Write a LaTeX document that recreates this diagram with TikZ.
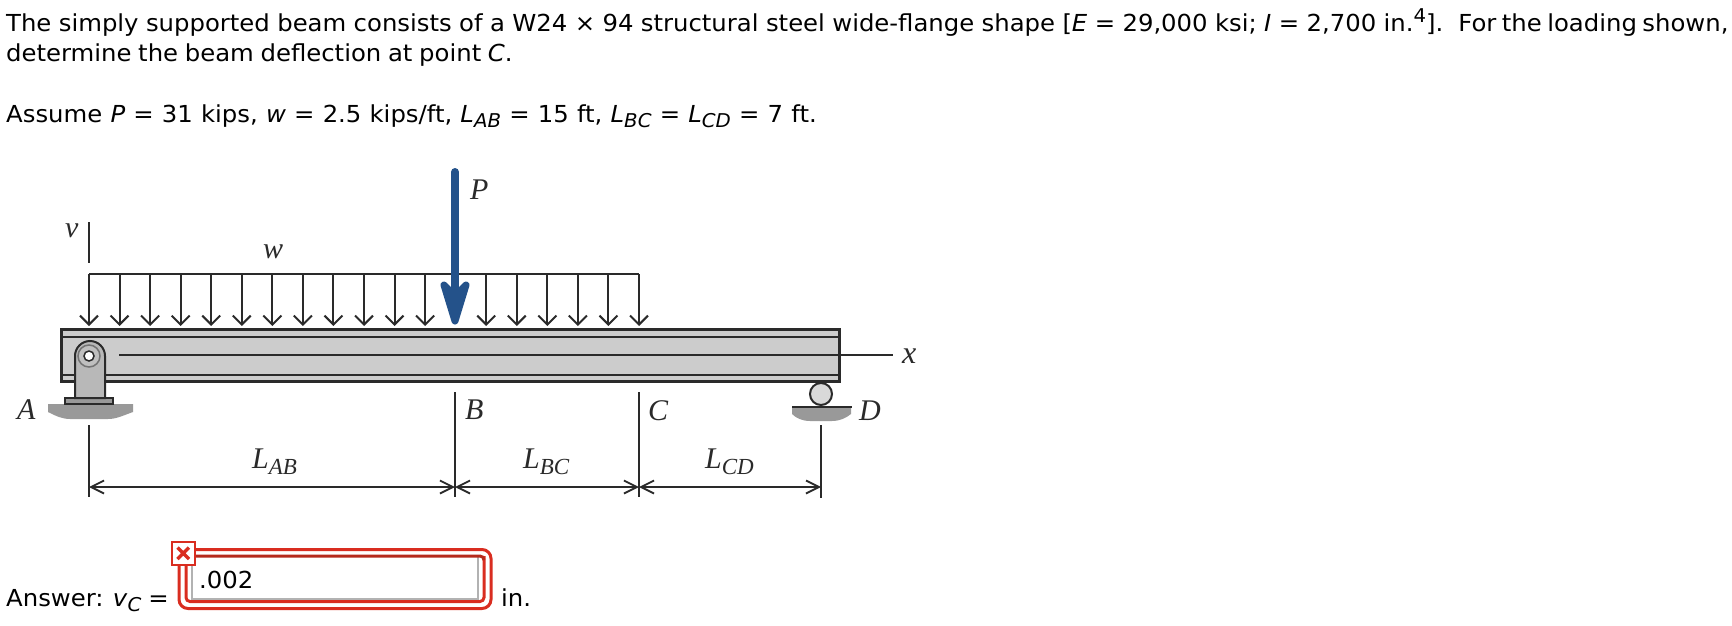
\documentclass[tikz,border=0pt]{standalone}
\usepackage{fontspec}
\setmainfont{DejaVu Sans}[FakeStretch=1.04]
\newfontfamily\figfont{Liberation Serif}
\usetikzlibrary{arrows.meta}
\definecolor{beamgray}{HTML}{CCCCCC}
\definecolor{inkdark}{HTML}{2A2A2A}
\definecolor{groundgray}{HTML}{999999}
\definecolor{loadblue}{HTML}{24528A}
\definecolor{errred}{HTML}{D92D20}
\definecolor{errdark}{HTML}{B52A1C}
\newcommand{\subtxt}[1]{\raisebox{-5pt}{\fontsize{19}{19}\selectfont\itshape #1}}
\tikzset{
  x=1pt,y=-1pt,
  bodytext/.style={anchor=base west,inner sep=0pt,font=\fontsize{23.4}{28}\selectfont},
  figlabel/.style={anchor=base west,inner sep=0pt,text=inkdark,font=\figfont\itshape\fontsize{30}{30}\selectfont},
  loadarrow/.style={draw=inkdark,line width=2pt,-{Straight Barb[length=9pt,width=18pt,line width=2pt]}},
  dimarrow/.style={draw=inkdark,line width=1.8pt,{Straight Barb[length=13pt,width=13pt,line width=1.8pt]}-{Straight Barb[length=13pt,width=13pt,line width=1.8pt]}},
  extline/.style={draw=inkdark,line width=1.7pt},
  beamline/.style={draw=inkdark,line width=2.4pt},
}
\newcommand{\figsub}[2]{#1\raisebox{-6pt}{\fontsize{23}{23}\selectfont #2}}
\begin{document}
\begin{tikzpicture}
\useasboundingbox (0,0) rectangle (1732,626);
% problem text
\node[bodytext] (line1) at (6,32) {\spaceskip=7.4pt The simply supported beam consists of a W24 × 94 structural steel wide-flange shape [\textit{E} = 29,000 ksi; \textit{I} = 2,700 in.\raisebox{9pt}{\fontsize{19}{19}\selectfont 4}].\hspace{5pt} {\spaceskip=5.5pt For the loading shown,}};
\node[bodytext] (line2) at (6,62) {\spaceskip=6.7pt determine the beam deflection at point \textit{C}.};
\node[bodytext] (line3) at (6,122) {\spaceskip=8.2pt Assume \textit{P} = 31 kips, \textit{w} = 2.5 kips/ft, \textit{L}\subtxt{AB} = 15 ft, \textit{L}\subtxt{BC} = \textit{L}\subtxt{CD} = 7 ft.};

% beam
\fill[beamgray] (61,329) rectangle (839,381);
\draw[inkdark,line width=3pt] (61,329) rectangle (839,381);
\draw[beamline] (61,337) -- (839,337);
\draw[beamline] (61,375) -- (839,375);
\coordinate (axisstart) at (119,355);
\coordinate (axisend) at (893,355);
\draw[inkdark,line width=1.8pt] (axisstart) -- (axisend);
\node[figlabel] (xlabel) at (902,363) {\fontsize{32}{32}\selectfont x};

% support A
\fill[groundgray] (48,404) -- (133,404) -- (133,412) .. controls (122,416) and (116,419) .. (108,419) -- (70,419) .. controls (62,419) and (56,416) .. (48,412) -- cycle;
\draw[inkdark,line width=1.5pt,fill=groundgray] (65,398) rectangle (113,404);
\draw[inkdark,line width=2pt,fill=black!28] (75,398) -- (75,356) arc[start angle=180,end angle=360,radius=15] -- (105,398) -- cycle;
\draw[black!55,line width=1.5pt,fill=black!25] (89,356) circle[radius=11];
\draw[inkdark,line width=1.5pt,fill=white] (89,356) circle[radius=5];

% support D
\fill[groundgray] (792,407) -- (851,407) -- (851,414) .. controls (846,418) and (840,421) .. (832,421) -- (810,421) .. controls (802,421) and (796,418) .. (792,414) -- cycle;
\draw[inkdark,line width=2.6pt] (792,407) -- (852,407);
\draw[inkdark,line width=2pt,fill=black!15] (821,394) circle[radius=11];

% v axis
\coordinate (vtop) at (89,222);
\coordinate (vbot) at (89,263);
\draw[extline] (vtop) -- (vbot);
\node[figlabel] (vlabel) at (65,237) {v};

% distributed load
\coordinate (loadL) at (89,274);
\coordinate (loadR) at (639,274);
\draw[inkdark,line width=2pt] (loadL) -- (loadR);
\foreach \i in {0,...,18}{
  \pgfmathsetmacro{\xx}{89+\i*30.556}
  \ifnum\i=12\else
  \draw[loadarrow] (\xx,274) -- (\xx,326);
  \fi
}
\node[figlabel] (wlabel) at (263,258) {w};

% P
\coordinate (Ptop) at (455,172);
\coordinate (Pneck) at (455,300);
\draw[loadblue,line width=8pt,line cap=round] (Ptop) -- (Pneck);
\draw[loadblue,fill=loadblue,line width=7pt,line join=round] (444,285) -- (455,296) -- (466,285) -- (455,321) -- cycle;
\node[figlabel] (Plabel) at (470,199) {P};

% point labels
\node[figlabel] (Alabel) at (17,419) {A};
\node[figlabel] (Blabel) at (465,419) {B};
\node[figlabel] (Clabel) at (648,420) {C};
\node[figlabel] (Dlabel) at (859,420) {D};

% extension lines
\coordinate (extAt) at (89,425);  \coordinate (extAb) at (89,497);
\coordinate (extBt) at (455,392); \coordinate (extBb) at (455,497);
\coordinate (extCt) at (639,392); \coordinate (extCb) at (639,497);
\coordinate (extDt) at (821,425); \coordinate (extDb) at (821,498);
\draw[extline] (extAt) -- (extAb);
\draw[extline] (extBt) -- (extBb);
\draw[extline] (extCt) -- (extCb);
\draw[extline] (extDt) -- (extDb);

% dimensions
\coordinate (dimA) at (89,487);
\coordinate (dimB) at (455,487);
\coordinate (dimC) at (639,487);
\coordinate (dimD) at (821,487);
\draw[dimarrow] (dimA) -- (dimB);
\draw[dimarrow] (dimB) -- (dimC);
\draw[dimarrow] (dimC) -- (dimD);
\node[figlabel] (LAB) at (252,468) {\figsub{L}{AB}};
\node[figlabel] (LBC) at (523,468) {\figsub{L}{BC}};
\node[figlabel] (LCD) at (705,468) {\figsub{L}{CD}};

% answer row
\node[bodytext] (answer) at (6,606) {\spaceskip=6.8pt Answer: \textit{v}\subtxt{C} =};
\draw[black!30,line width=1.2pt,fill=white] (192,556) rectangle (478,599);
\draw[errred,line width=3pt,rounded corners=9pt] (179,549.5) rectangle (491,608.5);
\draw[errred,line width=3pt,rounded corners=4pt] (186,556) -- (186,601.5) -- (484,601.5) -- (484,556);
\draw[errdark,line width=3pt,rounded corners=4pt] (186,560) -- (186,556) -- (484,556) -- (484,560);
\node[bodytext] (value) at (199,588) {.002};
\node[bodytext] (unit) at (501,606) {in.};
\draw[errred,line width=2pt,fill=white] (171.5,541.5) rectangle (195,565);
\draw[errred,line width=3.4pt] (177.5,547.5) -- (189,559) (189,547.5) -- (177.5,559);
\end{tikzpicture}
\end{document}
